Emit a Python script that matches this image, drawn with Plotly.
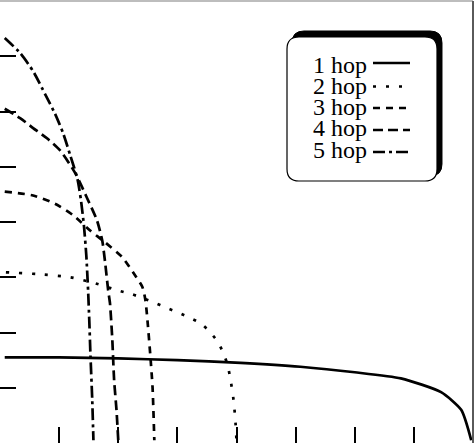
import plotly.graph_objects as go

W, H = 474, 443
ML, MR, MT, MB = 0, 1, 1, 0

# curve data (axis units, 0..8 on both axes)
hop1_x = [0.08, 1.0, 2.0, 3.0, 4.07, 5.08, 6.0, 6.78, 7.46, 7.8, 7.97]
hop1_y = [1.55, 1.55, 1.53, 1.50, 1.45, 1.38, 1.28, 1.17, 0.92, 0.6, 0.05]

hop2_x = [0.10, 0.73, 1.19, 1.61, 2.0, 2.24, 2.59, 2.83, 3.02, 3.22, 3.39, 3.56,
          3.69, 3.78, 3.85, 3.90, 3.95, 3.98, 4.0]
hop2_y = [3.09, 3.05, 3.0, 2.89, 2.76, 2.69, 2.55, 2.44, 2.36, 2.26, 2.17, 2.0,
          1.82, 1.62, 1.41, 1.14, 0.78, 0.42, 0.05]

hop3_x = [0.08, 0.56, 0.93, 1.24, 1.53, 1.78, 2.07, 2.25, 2.41, 2.46, 2.49, 2.54, 2.58, 2.61]
hop3_y = [4.55, 4.48, 4.33, 4.12, 3.84, 3.63, 3.36, 3.09, 2.82, 2.58, 2.27, 1.62, 1.01, 0.05]

hop4_x = [0.08, 0.34, 0.56, 0.80, 1.02, 1.27, 1.47, 1.64, 1.73, 1.78, 1.83, 1.86,
          1.90, 1.93, 1.97, 2.0]
hop4_y = [6.05, 5.88, 5.70, 5.51, 5.29, 4.89, 4.44, 4.03, 3.66, 3.25, 2.76, 2.53,
          1.86, 1.14, 0.60, 0.05]

hop5_x = [0.08, 0.34, 0.56, 0.76, 0.93, 1.07, 1.19, 1.31, 1.37, 1.42, 1.46, 1.49,
          1.51, 1.53, 1.56, 1.58]
hop5_y = [7.33, 7.06, 6.73, 6.32, 5.96, 5.60, 5.20, 4.78, 4.39, 3.93, 3.39, 2.76,
          2.22, 1.59, 0.78, 0.05]

names = ["1 hop", "2 hop", "3 hop", "4 hop", "5 hop"]
dashes = ["solid", "3px,10px", "7px,6px", "10px,5px", "12px,4px,3px,4px"]
tick_vals = [1, 2, 3, 4, 5, 6, 7]

series = [(hop1_x, hop1_y), (hop2_x, hop2_y), (hop3_x, hop3_y),
          (hop4_x, hop4_y), (hop5_x, hop5_y)]


def px(x):
    return (x - ML) / (W - ML - MR)


def py(y):
    return 1 - (y - MT) / (H - MT - MB)


def rounded_path(x0, y0, x1, y1, r):
    pts = [("M", [(x0 + r, y0)]), ("L", [(x1 - r, y0)]), ("Q", [(x1, y0), (x1, y0 + r)]),
           ("L", [(x1, y1 - r)]), ("Q", [(x1, y1), (x1 - r, y1)]),
           ("L", [(x0 + r, y1)]), ("Q", [(x0, y1), (x0, y1 - r)]),
           ("L", [(x0, y0 + r)]), ("Q", [(x0, y0), (x0 + r, y0)])]
    s = ""
    for cmd, ps in pts:
        s += cmd + " " + " ".join(f"{px(a):.5f},{py(b):.5f}" for a, b in ps) + " "
    return s + "Z"


fig = go.Figure()
for (xs, ys), name, d in zip(series, names, dashes):
    fig.add_trace(go.Scatter(
        x=xs, y=ys, mode="lines", name=name, showlegend=False,
        line=dict(color="black", width=2.7, dash=d, shape="spline", smoothing=0.6),
    ))

shapes = [
    # frame pieces that are visible in the crop
    dict(type="line", xref="paper", yref="paper", x0=0, x1=1, y0=1, y1=1,
         line=dict(color="#bdbdbd", width=2)),
    dict(type="line", xref="paper", yref="paper", x0=1, x1=1, y0=0, y1=1,
         line=dict(color="#5a5a5a", width=2)),
    # legend box shadow and box
    dict(type="path", xref="paper", yref="paper", path=rounded_path(292, 31, 442, 176, 12),
         fillcolor="black", line=dict(color="black", width=1), layer="above"),
    dict(type="path", xref="paper", yref="paper", path=rounded_path(287, 37, 437, 181, 12),
         fillcolor="white", line=dict(color="black", width=1.2), layer="above"),
]

annotations = []
line_y = [63, 86.5, 108, 130, 152]
text_base = [72, 93, 114, 135, 157]
for name, d, ly, tb in zip(names, dashes, line_y, text_base):
    annotations.append(dict(
        x=px(311), y=py(tb - 7), xref="paper", yref="paper", text=name,
        showarrow=False, xanchor="left", yanchor="middle",
        font=dict(family="Liberation Serif", size=24, color="black"),
    ))
    shapes.append(dict(type="line", xref="paper", yref="paper",
                       x0=px(373), x1=px(410), y0=py(ly), y1=py(ly),
                       line=dict(color="black", width=2.7, dash=d), layer="above"))

fig.update_layout(
    width=W, height=H,
    margin=dict(l=ML, r=MR, t=MT, b=MB),
    paper_bgcolor="white", plot_bgcolor="white",
    shapes=shapes, annotations=annotations,
    xaxis=dict(range=[0, 8], tickvals=tick_vals, ticks="inside", ticklen=16,
               tickwidth=1.5, tickcolor="black", showticklabels=False,
               showgrid=False, zeroline=False, showline=False),
    yaxis=dict(range=[0, 8], tickvals=tick_vals, ticks="inside", ticklen=16,
               tickwidth=1.5, tickcolor="black", showticklabels=False,
               showgrid=False, zeroline=False, showline=False),
)

fig.write_html("out.html", config={"displayModeBar": False},
               post_script="document.body.style.margin='0';")
